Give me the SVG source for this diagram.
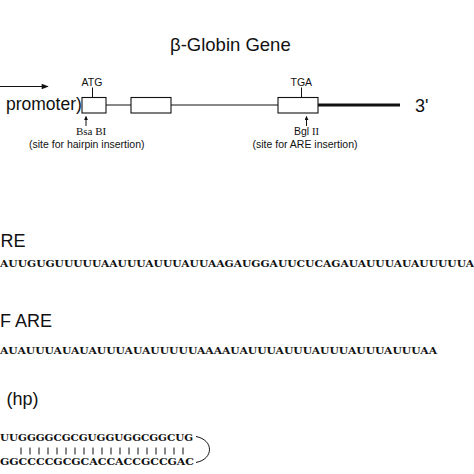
<svg xmlns="http://www.w3.org/2000/svg" width="474" height="474" viewBox="0 0 474 474">
<style>
.sans{font-family:"Liberation Sans",Arial,sans-serif;fill:#111}
.lbl{font-size:18px}
.small{font-size:10.5px}
.tiny{font-size:10.5px}
.seq{font-family:"DejaVu Serif","Liberation Serif",serif;font-weight:bold;font-size:10px;fill:#111}
.ln{stroke:#111;stroke-width:1;fill:none}
.box{stroke:#111;stroke-width:1.1;fill:#fff}
</style>
<defs>
<marker id="ah" viewBox="0 0 10 10" refX="9" refY="5" markerWidth="4" markerHeight="4" orient="auto" markerUnits="userSpaceOnUse"><path d="M0,0 L10,5 L0,10 z" fill="#111"/></marker>
<marker id="big" viewBox="0 0 10 10" refX="9" refY="5" markerWidth="10" markerHeight="7" orient="auto" markerUnits="userSpaceOnUse"><path d="M0,1 L10,5 L0,9 z" fill="#111"/></marker>
</defs>
<rect width="474" height="474" fill="#fff"/>
<text class="sans" x="170" y="51" font-size="18.5">β-Globin Gene</text>
<g id="connectors">
<line class="ln" x1="0" y1="86.5" x2="48" y2="86.5" stroke-width="1.6" marker-end="url(#big)"/>
<line class="ln" x1="106" y1="105" x2="131" y2="105"/>
<line class="ln" x1="171" y1="105" x2="278" y2="105"/>
<line x1="318" y1="105" x2="400" y2="105" stroke="#111" stroke-width="3.2"/>
<line class="ln" x1="92.5" y1="87.5" x2="92.5" y2="97.5"/>
<line class="ln" x1="301.5" y1="87.5" x2="301.5" y2="97.5"/>
<line class="ln" x1="86" y1="126" x2="86" y2="116.5" marker-end="url(#ah)"/>
<line class="ln" x1="306.5" y1="126" x2="306.5" y2="116.5" marker-end="url(#ah)"/>
</g>
<g id="promoter"><text class="sans" x="6" y="110" font-size="17.5">promoter)</text></g>
<g id="exon1"><rect class="box" x="82" y="97.5" width="24" height="15.5"/><text class="sans small" x="81.5" y="86">ATG</text></g>
<g id="exon2"><rect class="box" x="131" y="97.5" width="40" height="15.5"/></g>
<g id="exon3"><rect class="box" x="278" y="97.5" width="40" height="15.5"/><text class="sans small" x="290.5" y="86">TGA</text></g>
<g id="three"><text class="sans" x="415" y="111.5" font-size="18">3'</text></g>
<g id="bsabi"><text x="76" y="135" font-family="Liberation Serif,serif" font-size="11" fill="#111">Bsa BI</text>
<text class="sans tiny" x="29" y="147.5">(site for hairpin insertion)</text></g>
<g id="bglii"><text class="sans" x="294" y="135" font-size="10.5">Bgl <tspan font-family="Liberation Serif,serif">II</tspan></text>
<text class="sans tiny" x="252.5" y="147.5">(site for ARE insertion)</text></g>
<g id="are1"><text class="sans lbl" x="0.5" y="247">RE</text>
<text class="seq" x="0" y="267.3" textLength="474" lengthAdjust="spacingAndGlyphs">AUUGUGUUUUUAAUUUAUUUAUUAAGAUGGAUUCUCAGAUAUUUAUAUUUUUA</text></g>
<g id="are2"><text class="sans lbl" x="0" y="327">F ARE</text>
<text class="seq" x="0" y="354" textLength="437" lengthAdjust="spacingAndGlyphs">AUAUUUAUAUAUUUAUAUUUUUAAAAUAUUUAUUUAUUUAUUUAUUUAA</text></g>
<g id="hairpin"><text class="sans lbl" x="6.5" y="405">(hp)</text>
<text class="seq" x="0" y="440.7" textLength="193" lengthAdjust="spacingAndGlyphs">UUGGGGCGCGUGGUGGCGGCUG</text>
<text class="seq" x="0" y="465" textLength="194" lengthAdjust="spacingAndGlyphs">GGCCCCGCGCACCACCGCCGAC</text>
<path class="ln" stroke-width="1.2" d="M21,447.5v7M30,447.5v7M39,447.5v7M48,447.5v7M57,447.5v7M66,447.5v7M75,447.5v7M84,447.5v7M93,447.5v7M102,447.5v7M111,447.5v7M120,447.5v7M129,447.5v7M138,447.5v7M147,447.5v7M156,447.5v7M165,447.5v7M174,447.5v7M183,447.5v7"/>
<path class="ln" stroke-width="1.1" d="M196,436.5 C214,440 214,459 196,462.5"/></g>
</svg>
